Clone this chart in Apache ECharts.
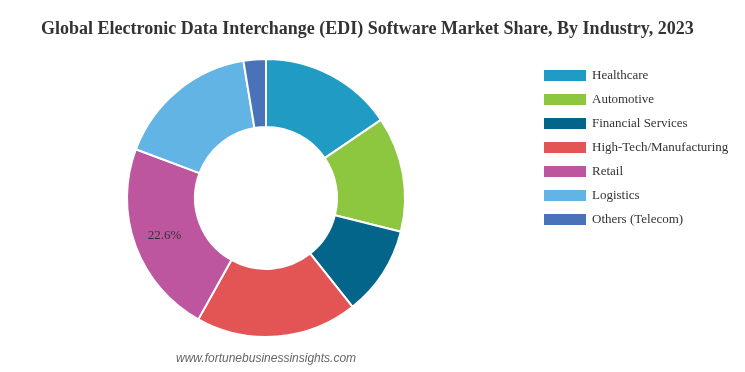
<!DOCTYPE html>
<html>
<head>
<meta charset="utf-8">
<script src="https://cdn.jsdelivr.net/npm/echarts@6/dist/echarts.min.js"></script>
<style>html,body{margin:0;padding:0;background:#fff;}#c{width:745px;height:372px;}</style>
</head>
<body>
<div id="c"></div>
<script>
const categories = ['Healthcare','Automotive','Financial Services','High-Tech/Manufacturing','Retail','Logistics','Others (Telecom)'];
const shares = [15.5, 13.4, 10.4, 18.8, 22.6, 16.7, 2.6];
const colors = ['#1f9bc4','#8dc63f','#04658a','#e35555','#bd569f','#62b4e4','#4a72b8'];
const labeled = ['Retail'];

const chart = echarts.init(document.getElementById('c'));
chart.setOption({
  animation: false,
  color: colors,
  title: {
    text: 'Global Electronic Data Interchange (EDI) Software Market Share, By Industry, 2023',
    left: 36, top: 15,
    textStyle: {fontFamily: 'Liberation Serif', fontWeight: 'bold', fontSize: 18, color: '#333'}
  },
  legend: {
    orient: 'vertical', left: 537, top: 63,
    itemWidth: 44, itemHeight: 13, itemGap: 9,
    icon: 'rect',
    data: categories,
    textStyle: {fontFamily: 'Liberation Serif', fontSize: 13, color: '#333'}
  },
  graphic: [{
    type: 'text', left: 176, top: 353,
    style: {text: 'www.fortunebusinessinsights.com', font: 'italic 12px "Liberation Sans", Arial, sans-serif', fill: '#666'}
  }],
  series: [{
    type: 'pie',
    center: [266, 198],
    radius: [71, 139],
    startAngle: 90,
    clockwise: true,
    avoidLabelOverlap: false,
    itemStyle: {borderColor: '#fff', borderWidth: 2},
    label: {show: false},
    labelLine: {show: false},
    emphasis: {disabled: true},
    data: categories.map((n, i) => ({
      name: n, value: shares[i],
      label: labeled.includes(n) ? {show: true, position: 'inside', formatter: '{c}%', fontFamily: 'Liberation Serif', fontSize: 13, color: '#333'} : {show: false}
    }))
  }]
});
</script>
</body>
</html>
